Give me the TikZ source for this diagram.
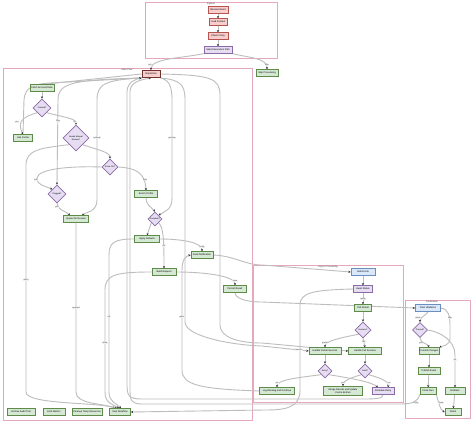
\documentclass[tikz,border=0pt]{standalone}
\usepackage{fontspec}
\setmainfont{Liberation Sans}
\usetikzlibrary{shapes.geometric,arrows.meta}
\definecolor{pinkfill}{HTML}{F8CECC}
\definecolor{pinkdraw}{HTML}{B85450}
\definecolor{greenfill}{HTML}{D5E8D4}
\definecolor{greendraw}{HTML}{5E8A4A}
\definecolor{lavfill}{HTML}{E6DDF2}
\definecolor{lavdraw}{HTML}{8A6BA6}
\definecolor{bluefill}{HTML}{DAE8FC}
\definecolor{bluedraw}{HTML}{6C8EBF}
\definecolor{clpink}{HTML}{E8A8BC}
\definecolor{clblue}{HTML}{A8B8E8}
\definecolor{edgegray}{HTML}{BDBDBD}
\pgfdeclarelayer{cl}
\pgfdeclarelayer{bg}
\pgfsetlayers{cl,bg,main}
\tikzset{
  base/.style={rectangle, inner sep=0.5pt, minimum height=6.5pt, font=\fontsize{2.4}{2.8}\selectfont, align=center, line width=0.6pt},
  pinkbox/.style={base, fill=pinkfill, draw=pinkdraw},
  greenbox/.style={base, fill=greenfill, draw=greendraw},
  lavbox/.style={base, fill=lavfill, draw=lavdraw},
  bluebox/.style={base, fill=bluefill, draw=bluedraw},
  dia/.style={diamond, aspect=1, inner sep=0pt, fill=lavfill, draw=lavdraw, line width=0.6pt, font=\fontsize{2.1}{2.5}\selectfont, align=center},
  edge/.style={draw=edgegray, line width=0.9pt, -{Stealth[length=2.4pt,width=2.2pt,color=black!80]}},
  elab/.style={font=\fontsize{2.1}{2.5}\selectfont, fill=gray!12, inner sep=0.4pt, text=black!75},
  cltitle/.style={font=\fontsize{2.4}{2.8}\selectfont, text=black!75, inner sep=0.3pt},
  clbox/.style={draw=clpink, line width=0.6pt},
  clleft/.style={draw=clblue, line width=0.6pt},
}
\begin{document}
\begin{tikzpicture}[x=1pt,y=-1pt]
\useasboundingbox (0,0) rectangle (474,423);

% clusters
\begin{pgfonlayer}{cl}
\fill[white] (0,0) rectangle (474,423);
\draw[clbox] (145,2) rectangle (277,58);
\draw[clleft] (145,2) -- (145,58);
\draw[clbox] (3,68) rectangle (252,420);
\draw[clleft] (3,68) -- (3,420);
\draw[clbox] (253,265) rectangle (403,402);
\draw[clbox] (405,300) rectangle (470,418);
\draw[clleft] (405,300) -- (405,418);
\end{pgfonlayer}
\node[cltitle] (t1) at (211,4) {Ingress};
\node[cltitle] (t2) at (127,69.5) {Main Flow};
\node[cltitle] (t3) at (328,267) {Async Processing};
\node[cltitle] (t4) at (432,302) {Finalization};

% top cluster nodes
\node[pinkbox, minimum width=20pt] (A1) at (218,10) {Receive Event};
\node[pinkbox, minimum width=18pt] (A2) at (218,22) {Load Context};
\node[pinkbox, minimum width=20pt] (A3) at (218,36) {Check Policy};
\node[lavbox, minimum width=28pt] (A4) at (218,50) {Select Execution Path};
\node[greenbox, minimum width=22pt] (G1) at (267,73) {Skip Processing};

% main cluster nodes
\node[pinkbox, minimum width=18pt, minimum height=7pt, draw=pinkdraw!60!black, line width=0.9pt] (M0) at (151,74) {Dispatcher};
\node[greenbox, minimum width=24pt] (M1) at (42,88) {Fetch Account Data};
\node[dia, minimum width=18pt, minimum height=18pt] (D1) at (42,108) {Cached?};
\node[greenbox, minimum width=19pt] (M2) at (23,138) {Use Cache};
\node[dia, minimum width=26pt, minimum height=26pt] (D2) at (76,138) {Needs Manual\\Review?};
\node[dia, minimum width=16pt, minimum height=16pt] (D3) at (110,167) {Score OK?};
\node[dia, minimum width=18pt, minimum height=18pt] (D4) at (57,194) {Flagged?};
\node[greenbox, minimum width=25pt] (M3) at (76,219) {Queue for Review};
\node[greenbox, minimum width=23pt] (M4) at (146,194) {Enrich Profile};
\node[dia, minimum width=14pt, minimum height=14pt] (D5) at (155,219) {Complete?};
\node[greenbox, minimum width=25pt] (M5) at (147,239) {Apply Defaults};
\node[greenbox, minimum width=24pt] (M6) at (164,272) {Build Request};
\node[greenbox, minimum width=22pt] (M7) at (202,255) {Send Notification};
\node[greenbox, minimum width=23pt] (M8) at (235,289) {Persist Result};
\node[greenbox, minimum width=28pt, minimum height=7pt] (B1) at (21,412) {Archive Audit Trail};
\node[greenbox, minimum width=22pt, minimum height=7pt] (B2) at (54,412) {Emit Metrics};
\node[greenbox, minimum width=30pt, minimum height=7pt] (B3) at (87,412) {Cleanup Temp Resources};
\node[greenbox, minimum width=21pt, minimum height=7pt] (B4) at (120,412) {Stop Workflow};

% middle cluster nodes
\node[bluebox, minimum width=24pt, minimum height=7pt] (N1) at (363,272) {Submit Job};
\node[lavbox, minimum width=19pt] (N2) at (363,289) {Await Status};
\node[greenbox, minimum width=17pt] (N3) at (363,308) {Poll Result};
\node[dia, minimum width=16pt, minimum height=16pt] (D6) at (363,330) {Success?};
\node[greenbox, minimum width=32pt] (N4) at (325,351) {Handle Partial Success};
\node[greenbox, minimum width=33pt] (N5) at (365,351) {Handle Full Success};
\node[dia, minimum width=14pt, minimum height=14pt] (D7) at (325,371) {Retry?};
\node[dia, minimum width=14pt, minimum height=14pt] (D8) at (365,371) {Valid?};
\node[greenbox, minimum width=35pt] (N6) at (277,391) {Log Warning and Continue};
\node[greenbox, minimum width=39pt, minimum height=9pt] (N7) at (343,391) {Merge Results and Update\\Cache Entries};
\node[lavbox, minimum width=22pt] (N8) at (383,391) {Schedule Retry};

% right cluster nodes
\node[bluebox, minimum width=25pt] (R1) at (428,308) {Final Validation};
\node[dia, minimum width=15pt, minimum height=15pt] (D9) at (420,330) {Passed?};
\node[greenbox, minimum width=20pt] (R2) at (429,351) {Commit Changes};
\node[greenbox, minimum width=22pt] (R3) at (429,371) {Publish Event};
\node[greenbox, minimum width=16pt] (R4) at (428,391) {Close Run};
\node[greenbox, minimum width=20pt] (R5) at (455,391) {Rollback};
\node[greenbox, minimum width=16pt] (R6) at (453,412) {Finish};

\begin{pgfonlayer}{bg}
% top
\draw[edge] (A1) -- (A2);
\draw[edge] (A2) -- (A3);
\draw[edge] (A3) -- (A4);
\draw[edge] (A4.south west) .. controls (185,58) and (151,58) .. (M0.north);
\draw[edge] (A4.south east) .. controls (250,58) and (267,58) .. (G1.north);
% main
\draw[edge] (M0.west) -- (M1.north);
\draw[edge] (M2.north) -- (24,100) .. controls (25,88) and (32,84) .. (50,83) -- (M0.south west);
\draw[edge] (M1) -- (D1);
\draw[edge] (D1.south west) .. controls (22,117) and (17,122) .. (M2.north);
\draw[edge] (D1.south east) .. controls (62,117) and (76,118) .. (D2.north);
\draw[edge] (D2.south east) .. controls (98,150) and (110,152) .. (D3.north);
\draw[edge] (D2.south west) .. controls (40,148) and (26,150) .. (26,165) -- (26,392) .. controls (26,405) and (100,402) .. ([xshift=-5pt]B4.north);
\draw[edge] (D3.west) .. controls (75,166) and (38,168) .. (37,178) .. controls (37,186) and (46,186) .. (D4.north west);
\draw[edge] (D3.east) .. controls (135,168) and (145,172) .. (M4.north);
\draw[edge] (M0.south west) .. controls (75,80) and (58,82) .. (58,100) -- (D4.north);
\draw[edge] (D4.south) .. controls (57,210) and (66,211) .. ([xshift=-6pt]M3.north);
\draw[edge] (M0.south west) .. controls (105,80) and (97,84) .. (97,100) -- (97,200) .. controls (97,212) and (86,212) .. ([xshift=6pt]M3.north);
\draw[edge] (M3.south) -- (76,392) .. controls (76,404) and (100,403) .. ([xshift=-3pt]B4.north);
\draw[edge] (M4.south) .. controls (146,205) and (151,207) .. (D5.north);
\draw[edge] (M0.south east) .. controls (168,80) and (172,84) .. (172,100) -- (172,198) .. controls (172,210) and (165,211) .. (D5.north east);
\draw[edge] (D5.south west) -- (M5.north);
\draw[edge] (D5.south east) .. controls (163,228) and (164,235) .. (M6.north);
\draw[edge] (M5.east) .. controls (180,239) and (202,242) .. (M7.north);
\draw[edge] (M5.west) .. controls (115,239) and (109,242) .. (109,255) -- (109,392) .. controls (109,402) and (116,403) .. ([xshift=1pt]B4.north);
\draw[edge] (M6.west) .. controls (115,272) and (105,275) .. (105,290) -- (105,392) .. controls (105,403) and (112,404) .. ([xshift=-1pt]B4.north);
\draw[edge] (M6.east) .. controls (205,272) and (235,276) .. (M8.north);
\draw[edge] (M7.east) .. controls (235,256) and (245,265) .. (262,265) -- (N1.west);
\draw[edge] (M8.south) .. controls (235,298) and (245,302) .. (262,302) -- (R1.west);
\draw[edge] (M0.east) .. controls (210,75) and (220,78) .. (220,95) -- (220,325) .. controls (220,338) and (240,343) .. (262,343) -- (N5.west);
\draw[edge] (M0.south east) .. controls (180,80) and (185,84) .. (185,100) -- (185,322) .. controls (185,336) and (230,345) .. (262,346) -- (N4.west);
\draw[edge] (N6.west) .. controls (200,389) and (182,385) .. (182,370) -- (182,270) .. controls (182,259) and (186,256) .. (M7.west);
% middle
\draw[edge] (N1) -- (N2);
\draw[edge] (N2) -- (N3);
\draw[edge] (N3) -- (D6);
\draw[edge] (D6.south west) .. controls (340,338) and (325,341) .. (N4.north);
\draw[edge] (D6.south) -- (N5.north);
\draw[edge] (N4) -- (D7);
\draw[edge] (N5) -- (D8);
\draw[edge] (D7.south west) .. controls (295,378) and (277,380) .. (N6.north);
\draw[edge] (D7.south east) .. controls (350,378) and (372,382) .. ([xshift=-5pt]N8.north);
\draw[edge] (D8.south west) .. controls (350,378) and (343,381) .. (N7.north);
\draw[edge] (D8.south east) .. controls (380,378) and (389,381) .. ([xshift=5pt]N8.north);
\draw[edge] (N2.west) .. controls (315,290) and (300,292) .. (300,305) -- (300,390) .. controls (300,408) and (285,410) .. (265,410) -- (B4.east);
\draw[edge] (N8.south) .. controls (383,399) and (375,399) .. (360,399) -- (142,399) .. controls (129,399) and (127,396) .. (127,385) -- (127,92) .. controls (127,82) and (136,79) .. (M0.south west);
\draw[edge] (R4.south west) .. controls (418,402) and (412,404) .. (400,404) -- (142,404) .. controls (131,404) and (130,400) .. (130,390) -- (130,92) .. controls (130,82) and (140,80) .. (M0.south);
% right
\draw[edge] (R1.south) .. controls (428,314) and (420,317) .. (D9.north);
\draw[edge] (R1.east) .. controls (448,309) and (450,315) .. (450,325) -- (450,338) .. controls (450,346) and (442,346) .. (R2.north east);
\draw[edge] (D9.south) .. controls (420,343) and (428,344) .. (R2.north);
\draw[edge] (D9.east) .. controls (440,332) and (455,340) .. (455,355) -- (R5.north);
\draw[edge] (R2) -- (R3);
\draw[edge] (R3) -- (R4);
\draw[edge] (R4.south east) .. controls (438,400) and (440,410) .. (R6.west);
\draw[edge] (R5) -- (R6);
\end{pgfonlayer}

% edge labels
\node[elab] (l1) at (150,65) {init};
\node[elab] (l2) at (267,65) {skip};
\node[elab] (l3) at (17,122) {yes};
\node[elab] (l4) at (75,122) {no};
\node[elab] (l5) at (58,121) {flag};
\node[elab] (l6) at (97,138) {manual};
\node[elab] (l7) at (172,138) {resume};
\node[elab] (l8) at (36,180) {low};
\node[elab] (l9) at (145,180) {high};
\node[elab] (l10) at (57,207) {yes};
\node[elab] (l11) at (164,246) {no};
\node[elab] (l12) at (202,247) {notify};
\node[elab] (l13) at (235,281) {save};
\node[elab] (l14) at (26,280) {abort};
\node[elab] (l15) at (76,308) {queued};
\node[elab] (l16) at (109,317) {ok};
\node[elab] (l17) at (105,343) {done};
\node[elab] (l18) at (182,317) {warn};
\node[elab] (l19) at (299,350) {timeout};
\node[elab] (l20) at (363,299) {ready};
\node[elab] (l21) at (325,343) {partial};
\node[elab] (l22) at (364,342) {full};
\node[elab] (l23) at (277,383) {no};
\node[elab] (l24) at (343,383) {yes};
\node[elab] (l25) at (389,383) {no};
\node[elab] (l26) at (418,318) {check};
\node[elab] (l27) at (450,318) {skip};
\node[elab] (l28) at (421,343) {yes};
\node[elab] (l29) at (455,360) {no};
\node[elab] (l30) at (416,403) {retry};
\node[elab] (l31) at (441,403) {done};
\end{tikzpicture}
\end{document}
